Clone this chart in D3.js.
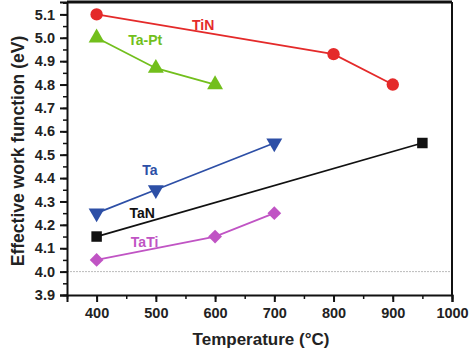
<!DOCTYPE html>
<html>
<head>
<meta charset="utf-8">
<script src="https://cdn.jsdelivr.net/npm/d3@7"></script>
<style>
  body { margin: 0; background: #fff; }
  text { font-family: "Liberation Sans", Arial, sans-serif; font-weight: bold; }
</style>
</head>
<body>
<div id="chart"></div>
<script>
// data
var xTicks = [400, 500, 600, 700, 800, 900, 1000];
var yTicks = [3.9, 4.0, 4.1, 4.2, 4.3, 4.4, 4.5, 4.6, 4.7, 4.8, 4.9, 5.0, 5.1];

var tinX = [400, 800, 900];
var tinY = [5.10, 4.93, 4.80];
var taptX = [400, 500, 600];
var taptY = [5.00, 4.87, 4.80];
var taX = [400, 500, 700];
var taY = [4.25, 4.35, 4.55];
var tanX = [400, 950];
var tanY = [4.15, 4.55];
var tatiX = [400, 600, 700];
var tatiY = [4.05, 4.15, 4.25];

var series = [
  {name: "TiN", xs: tinX, ys: tinY, color: "#e42a2a", shape: d3.symbolCircle, size: 120, rot: 0, lx: 580, ly: 5.05},
  {name: "Ta-Pt", xs: taptX, ys: taptY, color: "#72bf1c", shape: d3.symbolTriangle, size: 110, rot: 0, lx: 482, ly: 4.985},
  {name: "Ta", xs: taX, ys: taY, color: "#2d4fa6", shape: d3.symbolTriangle, size: 110, rot: 180, lx: 490, ly: 4.43},
  {name: "TaN", xs: tanX, ys: tanY, color: "#111111", shape: d3.symbolSquare, size: 110, rot: 0, lx: 477, ly: 4.245},
  {name: "TaTi", xs: tatiX, ys: tatiY, color: "#c054c4", shape: d3.symbolSquare, size: 95, rot: 45, lx: 481, ly: 4.123}
];

var svgWidth = 474;
var svgHeight = 363;
var margin = {top: 2, right: 22, bottom: 68, left: 67};
var chartWidth = svgWidth - margin.left - margin.right;
var chartHeight = svgHeight - margin.top - margin.bottom;

var svg = d3.select("#chart").append("svg")
  .attr("width", svgWidth)
  .attr("height", svgHeight);

var chartGroup = svg.append("g")
  .attr("transform", `translate(${margin.left}, ${margin.top})`);

var xScale = d3.scaleLinear().domain([350, 1000]).range([0, chartWidth]);
var yScale = d3.scaleLinear().domain([3.9, 5.153]).range([chartHeight, 0]);

// dotted reference line at 4.0
chartGroup.append("line")
  .attr("x1", 0).attr("x2", chartWidth)
  .attr("y1", yScale(4.0)).attr("y2", yScale(4.0))
  .attr("stroke", "#bbbbbb")
  .attr("stroke-width", 1)
  .attr("stroke-dasharray", "2,1");

// minor ticks
var xMinor = d3.axisBottom(xScale).tickValues(d3.range(350, 1001, 50)).tickSize(4).tickFormat("");
var yMinor = d3.axisLeft(yScale).tickValues(d3.range(3.9, 5.16, 0.05)).tickSize(4).tickFormat("");

chartGroup.append("g").attr("transform", `translate(0, ${chartHeight})`).call(xMinor)
  .call(g => g.selectAll("line").attr("stroke-width", 1.5).attr("stroke", "#111"));
chartGroup.append("g").call(yMinor)
  .call(g => g.selectAll("line").attr("stroke-width", 1.5).attr("stroke", "#111"));

var xAxis = d3.axisBottom(xScale).tickValues(xTicks).tickSize(7).tickPadding(6).tickFormat(d3.format("d"));
var yAxis = d3.axisLeft(yScale).tickValues(yTicks).tickSize(7).tickPadding(5).tickFormat(d3.format(".1f"));

var gx = chartGroup.append("g").attr("transform", `translate(0, ${chartHeight})`).call(xAxis);
var gy = chartGroup.append("g").call(yAxis);

[gx, gy].forEach(function(g) {
  g.selectAll("path").attr("stroke", "#111").attr("stroke-width", 2);
  g.selectAll("line").attr("stroke", "#111").attr("stroke-width", 2);
  g.selectAll("text").attr("fill", "#222").style("font-size", "14.5px")
    .style("font-family", "'Liberation Sans', Arial, sans-serif").style("font-weight", "bold");
});

// top and right frame
chartGroup.append("line").attr("x1", 0).attr("x2", chartWidth).attr("y1", 0).attr("y2", 0)
  .attr("stroke", "#111").attr("stroke-width", 3);
chartGroup.append("line").attr("x1", chartWidth).attr("x2", chartWidth).attr("y1", 0).attr("y2", chartHeight)
  .attr("stroke", "#111").attr("stroke-width", 2);

// lines and markers
var line = d3.line().x(d => xScale(d[0])).y(d => yScale(d[1]));

series.forEach(function(s) {
  var pts = s.xs.map((x, i) => [x, s.ys[i]]);
  chartGroup.append("path")
    .datum(pts)
    .attr("fill", "none")
    .attr("stroke", s.color)
    .attr("stroke-width", 1.8)
    .attr("d", line);

  chartGroup.selectAll(null)
    .data(pts)
    .enter()
    .append("path")
    .attr("d", d3.symbol().type(s.shape).size(s.size))
    .attr("fill", s.color)
    .attr("transform", d => `translate(${xScale(d[0])}, ${yScale(d[1])}) rotate(${s.rot})`);

  chartGroup.append("text")
    .attr("x", xScale(s.lx))
    .attr("y", yScale(s.ly))
    .attr("text-anchor", "middle")
    .attr("dominant-baseline", "middle")
    .attr("fill", s.color)
    .style("font-size", "14px")
    .text(s.name);
});

// axis titles
svg.append("text")
  .attr("transform", "translate(261, 345)")
  .attr("text-anchor", "middle")
  .attr("fill", "#222")
  .style("font-size", "17px")
  .text("Temperature (°C)");

svg.append("text")
  .attr("transform", "translate(24, 151) rotate(-90)")
  .attr("text-anchor", "middle")
  .attr("fill", "#222")
  .style("font-size", "17.5px")
  .text("Effective work function (eV)");
</script>
</body>
</html>
